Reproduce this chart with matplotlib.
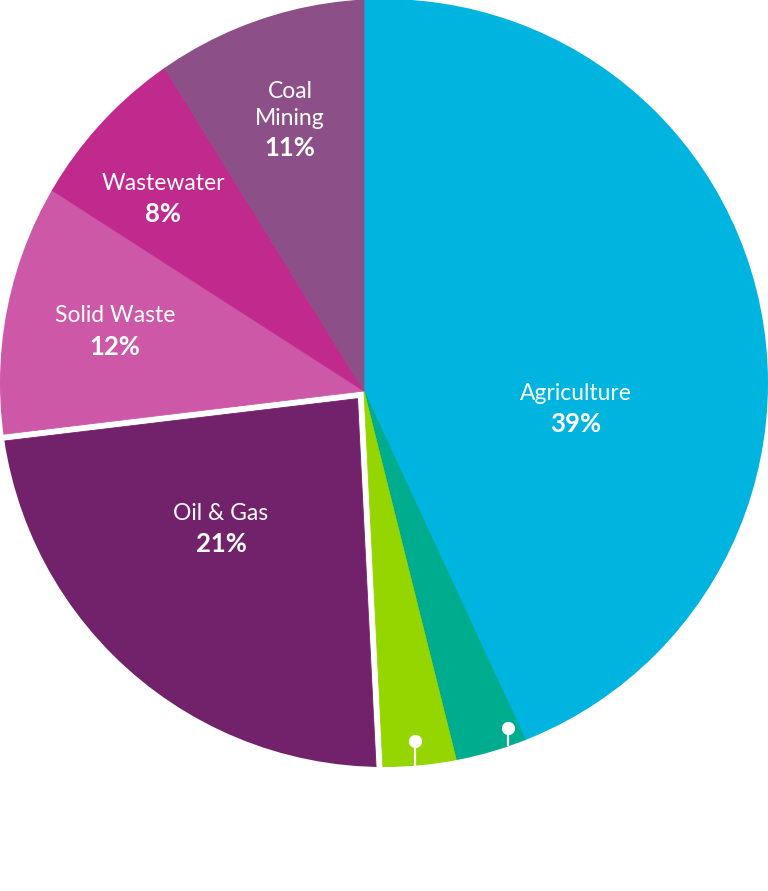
import numpy as np
import matplotlib
matplotlib.use("Agg")
import matplotlib.pyplot as plt
from matplotlib.patches import Circle

# ---- data (shares) ----
sectors = ["Agriculture", "Other A", "Other B", "Oil & Gas", "Solid Waste", "Wastewater", "Coal Mining"]
shares = [43.1, 3.0, 3.1, 23.9, 11.0, 7.1, 8.8]
label_names = ["Agriculture", None, None, "Oil & Gas", "Solid Waste", "Wastewater", "Coal\nMining"]
label_pcts = ["39%", None, None, "21%", "12%", "8%", "11%"]
colors = ["#00b4e0", "#00ac8e", "#95d500", "#72226a", "#cd58a7", "#c12a8d", "#8d4f87"]
explode = [0, 0, 0, 10, 0, 0, 0]

W, H = 768, 891
fig = plt.figure(figsize=(W / 100, H / 100), dpi=100)
ax = fig.add_axes([0, 0, 1, 1])

apex = (364, 500)          # point where slices meet (data = pixel units, y up)
circ_c = (384, 508)        # centre of the outer outline
circ_r = 384
R = 430

wedges, _ = ax.pie(shares, colors=colors, startangle=90, counterclock=False,
                   center=apex, radius=R, explode=explode,
                   wedgeprops=dict(linewidth=0.6, antialiased=True))
clip = Circle(circ_c, circ_r, transform=ax.transData)
for w in wedges:
    w.set_edgecolor(w.get_facecolor())
    w.set_clip_on(True)
    w.set_clip_path(clip)

ax.set_xlim(0, W)
ax.set_ylim(0, H)
ax.set_aspect("equal")
ax.axis("off")

# ---- labels ----
font = ["Lato", "DejaVu Sans"]
label_pos = {0: (576, 891 - 393, 31), 3: (221, 891 - 513, 31), 4: (115, 891 - 316, 31),
             5: (163, 891 - 184, 30), 6: (290, 891 - 105, 43)}
for i, (x, y, gap) in label_pos.items():
    ax.text(x, y, label_names[i], ha="center", va="center", color="white",
            fontsize=16.5, family=font, linespacing=1.35)
    ax.text(x, y - gap, label_pcts[i], ha="center", va="center", color="white",
            fontsize=18.5, family=font, fontweight="bold")

# ---- pins on the two small slices ----
pin_frac = {1: (0.84, 366.5), 2: (0.49, 354)}
for i, (f, d) in pin_frac.items():
    w = wedges[i]
    ang = np.deg2rad(w.theta1 + f * (w.theta2 - w.theta1))
    px = w.center[0] + d * np.cos(ang)
    py = w.center[1] + d * np.sin(ang)
    y_edge = circ_c[1] - np.sqrt(circ_r ** 2 - (px - circ_c[0]) ** 2)
    ax.plot([px, px], [py, y_edge], color="white", lw=1.6, solid_capstyle="butt", zorder=5)
    ax.plot([px], [py], marker="o", ms=8.5, color="white", mec="white", zorder=6)

fig.savefig("out.png", dpi=100)
